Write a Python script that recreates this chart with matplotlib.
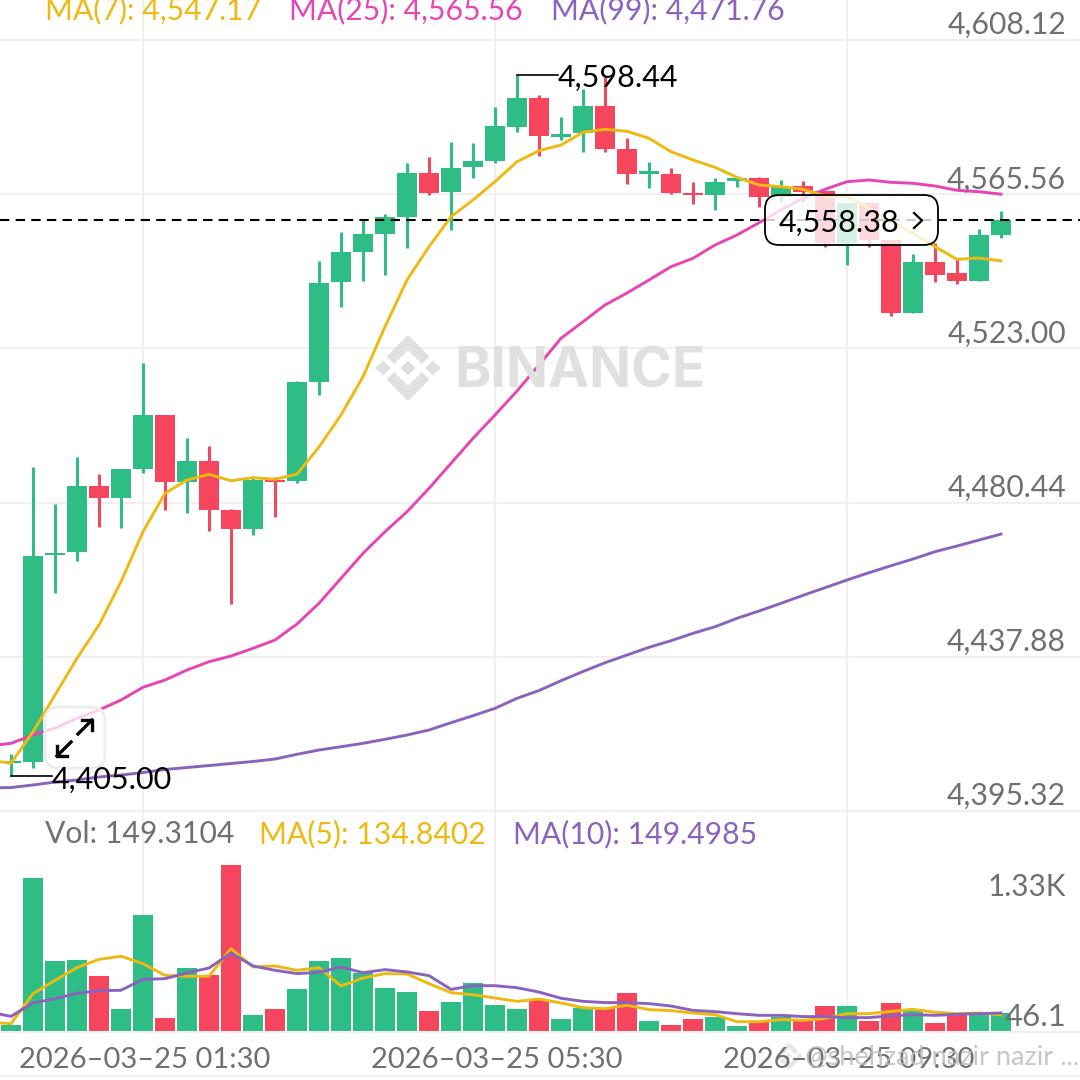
#!/usr/bin/env python3
"""
ETH style candlestick chart with MA overlays and volume panel.
"""

import matplotlib
matplotlib.use("Agg")
import matplotlib.pyplot as plt
from matplotlib.patches import FancyBboxPatch, Polygon

plt.rcParams['font.family'] = ['Lato', 'DejaVu Sans']

# candles, oldest first
opens = [4408.6, 4408.76, 4465.97, 4466.80, 4485.10, 4481.79, 4489.63, 4504.53, 4486.04, 4492.00,
         4478.31, 4473.15, 4486.81, 4486.32, 4513.81, 4541.24, 4549.69, 4554.57, 4559.18, 4571.49,
         4566.08, 4573.07, 4574.80, 4584.19, 4592.03, 4581.43, 4582.37, 4589.90, 4578.03, 4571.22,
         4571.05, 4565.81, 4565.26, 4569.29, 4570.11, 4564.87, 4567.82, 4566.44, 4552.01, 4563.13,
         4552.83, 4532.77, 4546.93, 4543.73, 4541.68, 4554.38]
closes = [4409.0, 4465.78, 4466.53, 4485.10, 4481.79, 4489.63, 4504.53, 4486.04, 4492.00, 4478.48,
          4473.15, 4486.68, 4486.26, 4513.81, 4540.97, 4549.61, 4554.49, 4559.18, 4571.33, 4565.97,
          4572.71, 4574.80, 4584.47, 4592.03, 4581.62, 4582.17, 4589.90, 4578.03, 4571.05, 4571.88,
          4565.81, 4565.26, 4569.01, 4570.11, 4564.87, 4567.63, 4566.25, 4552.01, 4563.13, 4552.83,
          4532.77, 4546.76, 4543.34, 4541.52, 4554.38, 4558.38]
highs = [4411.0, 4490.26, 4480.05, 4493.02, 4488.33, 4489.70, 4518.97, 4504.60, 4498.27, 4496.06,
         4478.67, 4487.78, 4487.59, 4513.90, 4547.20, 4555.04, 4558.71, 4560.09, 4574.09, 4575.74,
         4580.05, 4579.77, 4589.54, 4598.44, 4592.94, 4586.95, 4594.59, 4597.99, 4581.15, 4574.36,
         4572.79, 4569.01, 4569.95, 4570.39, 4570.20, 4569.40, 4569.12, 4566.50, 4563.20, 4563.20,
         4552.90, 4548.97, 4552.09, 4547.87, 4555.87, 4560.84]
lows = [4405.00, 4407.18, 4455.49, 4464.32, 4473.70, 4473.51, 4488.69, 4478.39, 4477.65, 4472.68,
        4452.37, 4471.41, 4476.55, 4485.93, 4510.05, 4534.51, 4541.68, 4543.26, 4550.63, 4565.42,
        4555.68, 4570.11, 4574.25, 4582.81, 4576.19, 4580.52, 4577.12, 4577.12, 4568.46, 4567.27,
        4565.70, 4562.77, 4561.12, 4567.63, 4562.03, 4563.49, 4563.32, 4550.90, 4546.02, 4550.90,
        4532.02, 4532.70, 4541.41, 4540.69, 4541.60, 4553.55]
volumes = [52, 1210, 561, 569, 440, 178, 920, 113, 506, 451, 1315, 134, 183, 335, 558, 579, 464, 343,
           314, 168, 238, 388, 215, 181, 255, 105, 186, 186, 304, 84, 55, 100, 120, 45, 76, 118, 89,
           202, 207, 84, 228, 163, 71, 144, 139, 149.31]
# green/red is read from the picture, it does not always follow open/close here
vol_up = [1, 1, 1, 1, 0, 1, 1, 0, 1, 0, 0, 1, 0, 1, 1, 1, 1, 1, 1, 0, 1, 1, 1, 1, 0, 1, 1, 0, 0, 1,
          0, 0, 1, 1, 0, 1, 0, 0, 1, 0, 0, 1, 0, 0, 1, 1]

# moving averages start one candle before the first visible one (index -1)
ma7 = [4409.39, 4408.48, 4417.20, 4427.33, 4437.46, 4446.65, 4458.61, 4472.40, 4483.00, 4486.68,
       4488.25, 4486.48, 4487.31, 4486.87, 4488.33, 4495.78, 4504.62, 4515.19, 4528.99, 4541.88,
       4551.07, 4559.35, 4563.96, 4569.01, 4574.53, 4577.57, 4579.14, 4582.64, 4583.47, 4582.92,
       4580.99, 4577.29, 4575.00, 4572.98, 4570.22, 4568.10, 4567.63, 4566.91, 4565.06, 4564.87,
       4561.67, 4557.97, 4554.77, 4551.07, 4547.59, 4547.95, 4547.17]
ma25 = [4413.26, 4414.00, 4416.29, 4418.22, 4420.90, 4423.19, 4425.95, 4429.46, 4431.47, 4434.23,
        4436.52, 4438.10, 4440.22, 4442.51, 4446.93, 4452.64, 4459.54, 4466.44, 4472.41, 4477.93,
        4484.38, 4491.28, 4498.18, 4504.62, 4511.24, 4518.42, 4525.79, 4530.37, 4534.98, 4538.29,
        4541.88, 4545.55, 4547.87, 4551.54, 4554.30, 4557.69, 4561.20, 4564.43, 4566.91, 4569.01,
        4569.48, 4568.84, 4568.57, 4567.82, 4566.64, 4566.25, 4565.56]
ma99 = [4401.66, 4401.80, 4402.49, 4403.32, 4403.87, 4404.70, 4405.25, 4405.94, 4406.77, 4407.32,
        4407.87, 4408.43, 4408.98, 4409.67, 4410.97, 4412.15, 4413.06, 4414.00, 4415.11, 4416.29,
        4417.67, 4419.69, 4421.62, 4423.66, 4426.42, 4428.57, 4431.28, 4433.82, 4436.25, 4438.37,
        4440.50, 4442.32, 4444.36, 4446.18, 4448.50, 4450.52, 4452.64, 4454.85, 4456.95, 4459.07,
        4461.09, 4463.02, 4464.87, 4466.89, 4468.46, 4470.11, 4471.76]
vol_ma5 = [76, 65.5, 301, 406, 506, 571, 595, 537, 445, 438, 438, 655, 511, 519, 485, 506, 362, 424,
           459, 456, 380, 309, 293, 267, 241, 259, 228, 191, 183, 210, 176, 168, 149, 136, 81, 81, 97,
           92, 107, 144, 144, 162, 178, 155, 144, 149, 134.84]
vol_ma10 = [157, 123, 228, 262, 304, 325, 328, 414, 419, 464, 503, 621, 519, 485, 459, 469, 511, 466,
            490, 472, 443, 335, 364, 364, 348, 314, 265, 241, 231, 231, 223, 204, 170, 160, 144, 131,
            131, 121, 121, 113, 113, 128, 136, 131, 139, 144, 149.50]

price_ticks = [4608.12, 4565.56, 4523.00, 4480.44, 4437.88, 4395.32]
price_labels = ["4,608.12", "4,565.56", "4,523.00", "4,480.44", "4,437.88", "4,395.32"]
date_labels = ["2026-03-25 01:30", "2026-03-25 05:30", "2026-03-25 09:30"]
date_positions = [6, 22, 38]

GREEN = "#2EBD85"
RED = "#F6465D"
YELLOW = "#EDB912"
PINK = "#E645B5"
PURPLE = "#8A63BE"
GREY = "#707070"
GRID = "#F0F0F0"

SIZE = 1080
TEXT_SIZE = 21.7


def px_axes(fig, top, bottom):
    """Axes covering the full width, between two pixel rows counted from the top."""
    return fig.add_axes([0, 1 - bottom / SIZE, 1, (bottom - top) / SIZE])


def binance_logo(ax, cx, cy, r, color, **kw):
    """Binance diamond logo, drawn in pixel coordinates."""
    shapes = [
        [(0, -0.23), (0.23, 0), (0, 0.23), (-0.23, 0)],
        [(-0.98, 0), (-0.75, -0.23), (-0.52, 0), (-0.75, 0.23)],
        [(0.98, 0), (0.75, -0.23), (0.52, 0), (0.75, 0.23)],
        [(0, -1), (0.65, -0.35), (0.42, -0.12), (0, -0.54), (-0.42, -0.12), (-0.65, -0.35)],
        [(0, 1), (0.65, 0.35), (0.42, 0.12), (0, 0.54), (-0.42, 0.12), (-0.65, 0.35)],
    ]
    for pts in shapes:
        ax.add_patch(Polygon([(cx + x * r, cy + y * r) for x, y in pts], closed=True,
                             facecolor=color, edgecolor='none', **kw))


fig = plt.figure(figsize=(10.8, 10.8), dpi=100, facecolor='white')

# pixel overlay for texts and widgets, y counted from the top like the picture
ax_px = fig.add_axes([0, 0, 1, 1], zorder=5)
ax_px.set_xlim(0, SIZE)
ax_px.set_ylim(SIZE, 0)
ax_px.axis('off')

ax = px_axes(fig, 0, 811)
ax_vol = px_axes(fig, 811, 1032)
x_range = (-0.5, 48.59)

# price panel
for a in (ax, ax_vol):
    a.set_xlim(*x_range)
    for s in a.spines.values():
        s.set_visible(False)
    a.set_xticks([])
    a.set_yticks([])
    for p in date_positions:
        a.axvline(p, color=GRID, lw=1.5, zorder=0)

ax.set_ylim(4395.32, 4619.16)
ax_vol.set_ylim(0, 1737)

for p in price_ticks:
    ax.axhline(p, color=GRID, lw=1.5, zorder=0)

for i in range(len(opens)):
    up = closes[i] >= opens[i]
    color = GREEN if up else RED
    ax.vlines(i, lows[i], highs[i], color=color, lw=2.2, zorder=2)
    ax.bar(i, max(abs(closes[i] - opens[i]), 0.55), bottom=min(opens[i], closes[i]), width=0.87,
           color=color, zorder=2)

xs = list(range(-1, 46))
ax.plot(xs, ma99, color=PURPLE, lw=2.1, zorder=3)
ax.plot(xs, ma25, color=PINK, lw=2.1, zorder=3)
ax.plot(xs, ma7, color=YELLOW, lw=2.1, zorder=3)
ax.axhline(closes[-1], color='black', lw=1.5, dashes=(4.5, 3), zorder=3)

# volume panel
ax_vol.bar(range(len(volumes)), volumes, width=0.87,
           color=[GREEN if u else RED for u in vol_up], zorder=2)
ax_vol.plot(xs, vol_ma5, color=YELLOW, lw=2.1, zorder=3)
ax_vol.plot(xs, vol_ma10, color=PURPLE, lw=2.1, zorder=3)

# panel separators
for y in (811, 1032, 1076):
    ax_px.axhline(y, color=GRID, lw=1.5, zorder=0)

# price labels sit just above their grid lines
for p, label in zip(price_ticks, price_labels):
    ax.annotate(label, xy=(1, p), xycoords=('axes fraction', 'data'), xytext=(-10, 0.6),
                textcoords='offset points', ha='right', va='bottom', fontsize=TEXT_SIZE, color=GREY,
                zorder=6)

ax_px.text(1066, 887, "1.33K", ha='right', va='center', fontsize=21.3, color=GREY)
ax_px.text(1066, 1017, "46.1", ha='right', va='center', fontsize=22.5, color=GREY)

for p, label in zip(date_positions, date_labels):
    ax_px.text(11 + 22 * p + 2, 1059.5, label.replace('-', '\u2013'), ha='center', va='center',
               fontsize=21, color=GREY)

# legends
for x, label, color in [(45, "MA(7): 4,547.17", YELLOW), (289, "MA(25): 4,565.56", PINK),
                        (551, "MA(99): 4,471.76", PURPLE)]:
    ax_px.text(x, 10, label, ha='left', va='center', fontsize=TEXT_SIZE, color=color)
for x, label, color in [(45, "Vol: 149.3104", GREY), (259, "MA(5): 134.8402", YELLOW),
                        (513, "MA(10): 149.4985", PURPLE)]:
    ax_px.text(x, 834, label, ha='left', va='center', fontsize=TEXT_SIZE, color=color)

# high and low markers
ax_px.plot([517, 558], [75, 75], color='black', lw=1.2)
ax_px.text(558, 78, "4,598.44", ha='left', va='center', fontsize=22, color='black')
ax_px.plot([11, 52], [776, 776], color='black', lw=1.2)
ax_px.text(52, 780, "4,405.00", ha='left', va='center', fontsize=22, color='black')

# last price box
ax_px.add_patch(FancyBboxPatch((774, 204), 155, 32, boxstyle="round,pad=9,rounding_size=14",
                               facecolor=(1, 1, 1, 0.8), edgecolor='black', lw=1.3))
ax_px.text(779, 223, "4,558.38", ha='left', va='center', fontsize=22, color='black')
ax_px.plot([914, 922, 914], [213, 220.5, 228], color='black', lw=1.6)

# expand button
ax_px.add_patch(FancyBboxPatch((55, 717), 40, 41, boxstyle="round,pad=10,rounding_size=14",
                               facecolor=(1, 1, 1, 0.75), edgecolor='#EDEDED', lw=2))
ax_px.plot([78, 92], [734, 720], color='black', lw=2.4)
ax_px.plot([82, 92, 92], [720, 720, 730], color='black', lw=2.4)
ax_px.plot([71, 57], [742, 756], color='black', lw=2.4)
ax_px.plot([57, 57, 67], [746, 756, 756], color='black', lw=2.4)

# watermarks
binance_logo(ax_px, 408, 368, 33, '#E0E0E0', zorder=1)
ax_px.text(454, 373, "BINANCE", ha='left', va='center', fontsize=39.7, fontweight='bold',
           family=['Inter', 'DejaVu Sans'], color='#E0E0E0', zorder=1)
binance_logo(ax_px, 789, 1056, 14, '#D8D8D8', alpha=0.6)
ax_px.text(805, 1058, "@shehzad nazir nazir ...", ha='left', va='center', fontsize=19.5,
           color='#BDBDBD', alpha=0.85)

fig.savefig("out.png", dpi=100, facecolor='white')
